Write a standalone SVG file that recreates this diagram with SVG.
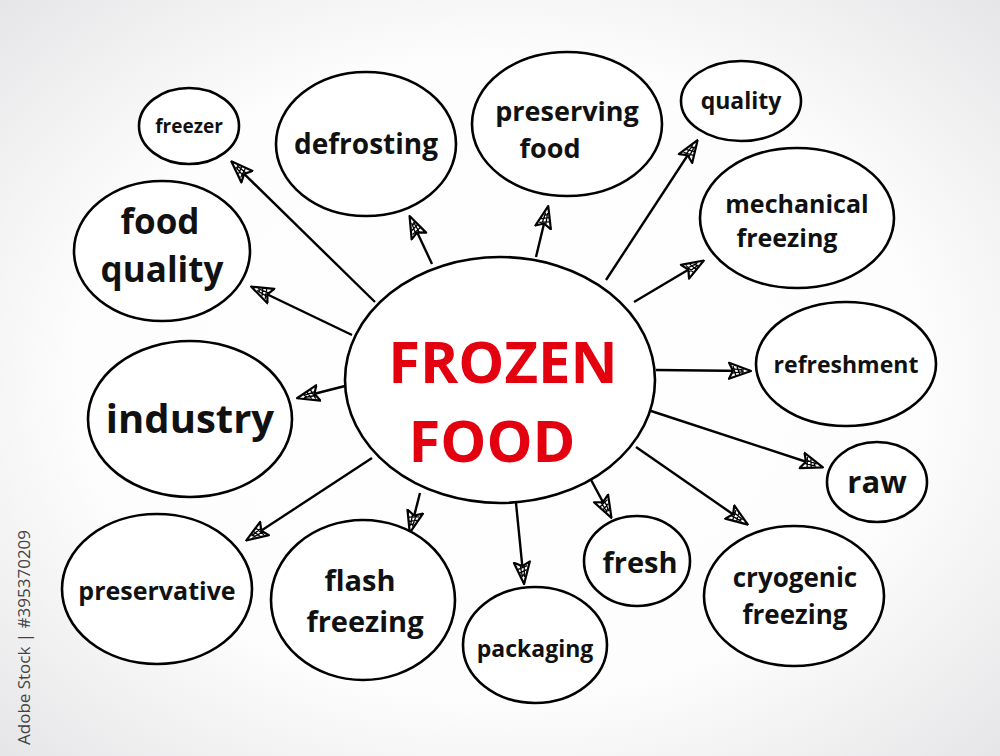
<svg xmlns="http://www.w3.org/2000/svg" width="1000" height="756" viewBox="0 0 1000 756">
<defs>
<radialGradient id="bg" cx="50%" cy="50%" r="70%">
<stop offset="0" stop-color="#ffffff"/>
<stop offset="0.6" stop-color="#fdfdfd"/>
<stop offset="1" stop-color="#e6e6e8"/>
</radialGradient>
<marker id="arr" viewBox="0 0 24 20" refX="22" refY="10" markerWidth="24" markerHeight="20" markerUnits="userSpaceOnUse" orient="auto">
<path d="M1,2 L23,10 L1,18 L5,10 Z" fill="#fff" stroke="#000" stroke-width="2.2" stroke-linejoin="round"/>
<path d="M5,5 L8,15 M9,6 L12,14 M13,8 L15,12 M4,8 L16,9 M4,12 L16,11" stroke="#000" stroke-width="1.3" fill="none"/>
</marker>
<style>
.n{fill:#fff;stroke:#000;stroke-width:2.6}
.t{font-family:"Open Sans","DejaVu Sans",sans-serif;font-weight:700;fill:#111;text-anchor:middle}
.r{fill:#e3000f}
.c line{stroke:#000;stroke-width:2.4;marker-end:url(#arr)}
</style>
</defs>
<rect width="1000" height="756" fill="url(#bg)"/>
<g class="c" id="connectors">
<line x1="375" y1="302" x2="232" y2="162"/>
<line x1="432" y1="264" x2="410" y2="217"/>
<line x1="536" y1="257" x2="548" y2="207"/>
<line x1="606" y1="280" x2="697" y2="141"/>
<line x1="634" y1="302" x2="703" y2="261"/>
<line x1="352" y1="335" x2="252" y2="287"/>
<line x1="656" y1="370" x2="750" y2="371"/>
<line x1="345" y1="386" x2="298" y2="398"/>
<line x1="648" y1="410" x2="822" y2="467"/>
<line x1="372" y1="458" x2="247" y2="540"/>
<line x1="420" y1="493" x2="410" y2="532"/>
<line x1="516" y1="503" x2="524" y2="583"/>
<line x1="590" y1="478" x2="611" y2="517"/>
<line x1="636" y1="447" x2="747" y2="524"/>
</g>
<g id="center">
<ellipse class="n" cx="500" cy="380" rx="155" ry="123" stroke-width="3.5"/>
<text class="t r" x="503" y="383" font-size="58" style="fill:#e3000f">FROZEN</text>
<text class="t r" x="492" y="462" font-size="58" style="fill:#e3000f">FOOD</text>
</g>
<g id="n-freezer"><ellipse class="n" cx="189" cy="126" rx="50" ry="38"/><text class="t" x="189" y="133" font-size="19">freezer</text></g>
<g id="n-defrosting"><ellipse class="n" cx="366" cy="144" rx="90" ry="72"/><text class="t" x="366" y="154" font-size="28">defrosting</text></g>
<g id="n-preserving"><ellipse class="n" cx="567" cy="124" rx="95" ry="72"/><text class="t" x="567" y="121" font-size="27">preserving</text><text class="t" x="550" y="158" font-size="27">food</text></g>
<g id="n-quality"><ellipse class="n" cx="741" cy="101" rx="60" ry="40"/><text class="t" x="741" y="109" font-size="23">quality</text></g>
<g id="n-mechanical"><ellipse class="n" cx="797" cy="218" rx="97" ry="70"/><text class="t" x="797" y="213" font-size="25">mechanical</text><text class="t" x="787" y="247" font-size="25">freezing</text></g>
<g id="n-foodquality"><ellipse class="n" cx="162" cy="251" rx="88" ry="70"/><text class="t" x="160" y="234" font-size="35">food</text><text class="t" x="162" y="282" font-size="35">quality</text></g>
<g id="n-refreshment"><ellipse class="n" cx="846" cy="364" rx="90" ry="62"/><text class="t" x="846" y="373" font-size="23">refreshment</text></g>
<g id="n-industry"><ellipse class="n" cx="190" cy="419" rx="102" ry="78"/><text class="t" x="190" y="433" font-size="40">industry</text></g>
<g id="n-raw"><ellipse class="n" cx="877" cy="482" rx="50" ry="40"/><text class="t" x="877" y="493" font-size="31">raw</text></g>
<g id="n-preservative"><ellipse class="n" cx="157" cy="589" rx="95" ry="75"/><text class="t" x="157" y="600" font-size="25">preservative</text></g>
<g id="n-flash"><ellipse class="n" cx="363" cy="600" rx="92" ry="80"/><text class="t" x="360" y="591" font-size="29">flash</text><text class="t" x="365" y="632" font-size="29">freezing</text></g>
<g id="n-packaging"><ellipse class="n" cx="535" cy="645" rx="72" ry="58"/><text class="t" x="535" y="657" font-size="23">packaging</text></g>
<g id="n-fresh"><ellipse class="n" cx="637" cy="561" rx="53" ry="45"/><text class="t" x="640" y="573" font-size="29">fresh</text></g>
<g id="n-cryogenic"><ellipse class="n" cx="794" cy="596" rx="90" ry="70"/><text class="t" x="795" y="587" font-size="26">cryogenic</text><text class="t" x="795" y="624" font-size="26">freezing</text></g>
<text x="30" y="745" transform="rotate(-90 30 745)" font-family="'Open Sans','DejaVu Sans',sans-serif" font-size="17" fill="#444">Adobe Stock | #395370209</text>
</svg>
